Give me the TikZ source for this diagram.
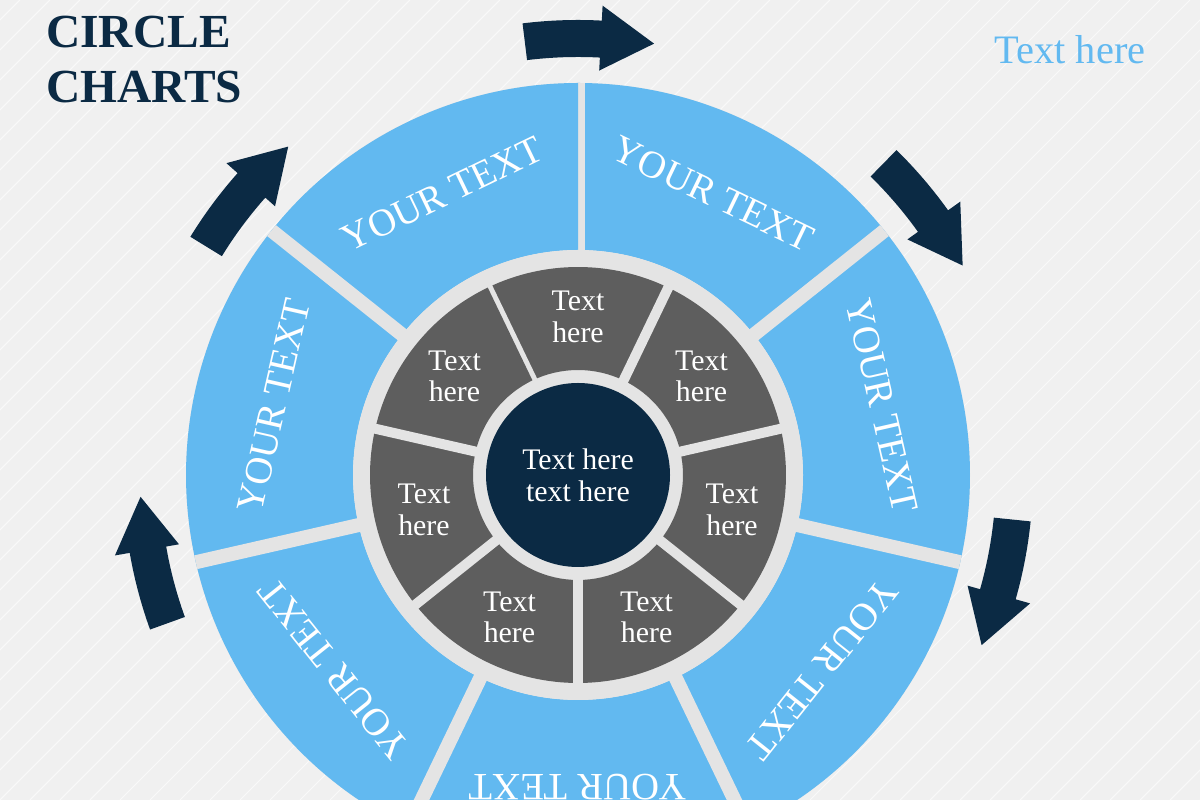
\documentclass[tikz,border=0pt]{standalone}
\usepackage{fontspec}
\setmainfont{Liberation Serif}
\definecolor{bg}{HTML}{F0F0F0}
\definecolor{ringbg}{HTML}{E4E4E4}
\definecolor{lblue}{HTML}{62B9F0}
\definecolor{navy}{HTML}{0B2A44}
\definecolor{dgray}{HTML}{5E5E5E}
\begin{document}
\begin{tikzpicture}[x=0.02cm,y=0.02cm,
  outertext/.style={text=white,font=\fontsize{22}{24}\selectfont},
  innertext/.style={text=white,font=\fontsize{17}{20}\selectfont,align=center},
  gapline/.style={draw=ringbg,line width=0.28cm}]
\useasboundingbox (0,0) rectangle (1200,800);
\clip (0,0) rectangle (1200,800);
\fill[bg] (0,0) rectangle (1200,800);
\foreach \i in {-40,...,40} {\draw[white!60!bg,line width=0.6pt] (\i*30,0) -- ++(800,800);}
\begin{scope}[shift={(578,325)}]
  \fill[ringbg] (0,0) circle (392);
  % outer segments
  \foreach \k in {0,...,6} {
    \pgfmathsetmacro\a{90-\k*360/7}
    \pgfmathsetmacro\b{\a-360/7}
    \fill[lblue] (\a:225) arc[start angle=\a,end angle=\b,radius=225] -- (\b:392) arc[start angle=\b,end angle=\a,radius=392] -- cycle;
    \draw[gapline] (\a:200) -- (\a:392);
    \pgfmathsetmacro\c{\a-180/7}
    \pgfmathsetmacro\r{\c-90}
    \node[outertext,rotate=\r] (o\k) at (\c:312) {YOUR TEXT};
    % arrows
    \fill[navy] (\a+7:418) arc[start angle=\a+7,end angle=\a-3,radius=418] -- (\a-3:405) -- (\a-10:438) -- (\a-3:470) -- (\a-3:455) arc[start angle=\a-3,end angle=\a+7,radius=455] -- cycle;
  }
  % inner gray ring
  \fill[ringbg] (0,0) circle (225);
  \foreach \k in {0,...,6} {
    \pgfmathsetmacro\a{90+180/7-\k*360/7}
    \pgfmathsetmacro\b{\a-360/7}
    \fill[dgray] (\a:105) arc[start angle=\a,end angle=\b,radius=105] -- (\b:208) arc[start angle=\b,end angle=\a,radius=208] -- cycle;
    \draw[gapline,line width=0.2cm] (\a:95) -- (\a:215);
    \pgfmathsetmacro\c{\a-180/7}
    \node[innertext] (i\k) at (\c:158) {Text\\[-2pt]here};
  }
  \fill[navy] (0,0) circle (92);
  \node[innertext] (ctr) at (0,0) {Text here\\[-2pt]text here};
\end{scope}
\node[anchor=north west,align=left,text=navy,font=\bfseries\fontsize{27}{31}\selectfont] (title) at (40,790) {CIRCLE\\CHARTS};
\node[text=lblue,font=\fontsize{23}{26}\selectfont] (th) at (1070,750) {Text here};
\end{tikzpicture}
\end{document}
